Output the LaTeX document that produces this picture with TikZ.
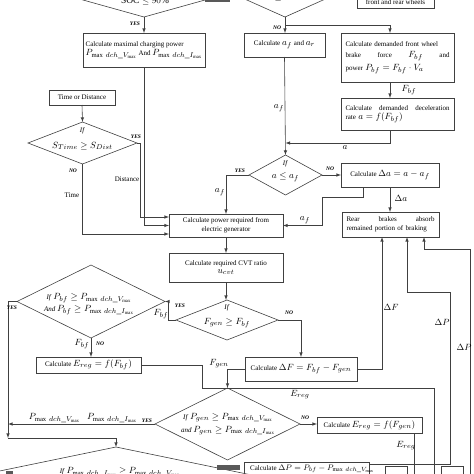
\documentclass[tikz,border=0pt]{standalone}
\usepackage{fontspec}
\setmainfont{Liberation Serif}
\usetikzlibrary{shapes.geometric,calc}
\def\m#1{{\fontsize{9.5}{10}\selectfont$#1$}}
\def\ms#1{{\fontsize{8.5}{9}\selectfont$#1$}}
\newcommand{\PmaxV}{P_{\max\,dch\_V_{\max}}}
\newcommand{\PmaxI}{P_{\max\,dch\_I_{\max}}}
\tikzset{
  blk/.style={draw=black!75, line width=0.6pt, rectangle, inner sep=1pt, outer sep=0pt, font=\fontsize{7}{8.5}\selectfont},
  dia/.style={draw=black!75, line width=0.6pt, diamond, inner sep=0pt, outer sep=0pt},
  txt/.style={inner sep=0pt, font=\fontsize{7}{9}\selectfont, align=center},
  lbl/.style={inner sep=0pt, font=\fontsize{5.5}{6}\selectfont\bfseries\itshape},
  wire/.style={draw=black!75, line width=0.6pt},
  arr/.style={wire, -latex},
  stub/.style={fill=black!65, draw=none}
}

\begin{document}
\begin{tikzpicture}[x=1pt, y=-1pt]
			%%%%% START %%%%%
			\useasboundingbox (0,0) rectangle (474,474);
			\clip (0,0) rectangle (474,474);
			
			% decisions
			\node[dia, minimum width=208, minimum height=58] (soc) at (144,-12) {};
			\node[txt] (soc-t) at (145,1) {\m{\mathrm{SOC}\leq 90\%}};
			\node[dia, minimum width=130, minimum height=58] (dtop) at (285,-12) {};
			\node[txt] (dtop-t) at (283,-3) {\m{a\geq a_{\mathrm{lim}}}};
			\node[dia, minimum width=109, minimum height=42] (stime) at (82.5,143) {};
			\node[txt] (stime-if) at (82.5,131) {\textit{If}};
			\node[txt] (stime-t) at (82.5,146) {\m{S_{Time}\geq S_{Dist}}};
			\node[dia, minimum width=73, minimum height=40] (da) at (285.5,175) {};
			\node[txt] (da-if) at (285.5,164) {\textit{If}};
			\node[txt] (da-t) at (285.5,177) {\m{a\leq a_f}};
			\node[dia, minimum width=102, minimum height=40] (dfgen) at (227,320) {};
			\node[txt] (dfgen-if) at (227,308) {\textit{If}};
			\node[txt] (dfgen-t) at (227,323) {\m{F_{gen}\geq F_{bf}}};
			\node[dia, minimum width=148, minimum height=73] (dpbf) at (91,301.5) {};
			\node[txt] (dpbf-t) at (89,304) {\textit{If} \m{P_{bf}\geq \PmaxV}\\[2pt] \textit{And} \m{P_{bf}\geq \PmaxI}};
			\node[dia, minimum width=145, minimum height=72] (dpgen) at (227.5,424) {};
			\node[txt] (dpgen-t) at (228,424) {\textit{If} \m{P_{gen}\geq \PmaxV}\\[3pt] \textit{and} \m{P_{gen}\geq \PmaxI}};
			\node[dia, minimum width=320, minimum height=66] (dlow) at (116,480) {};
			\node[txt] (dlow-t) at (120,472) {\textit{If} \m{\PmaxI\geq \PmaxV}};
			
			% process boxes
			\node[blk, minimum width=77, minimum height=32] (topr) at (395.5,-8) {};
			\node[txt] (topr-t) at (395.5,2) {front and rear wheels};
			\node[blk, minimum width=122, minimum height=34] (charge) at (144,50) {};
			\node[txt, align=left] (charge-t) at (144,50) {Calculate maximal charging power\\ \m{\PmaxV} And \m{\PmaxI}};
			\node[blk, minimum width=66, minimum height=15] (timed) at (82,97.5) {Time or Distance};
			\node[blk, minimum width=81, minimum height=24] (ac) at (284.5,45) {Calculate \m{a_f} and \m{a_r}};
			\node[blk, minimum width=113, minimum height=49, text width=104, align=left] (front) at (397.5,57.5)
				{Calculate demanded front wheel\\[3pt] brake \hfill force \hfill \m{F_{bf}} \hfill and\\[3pt] power \m{P_{bf}=F_{bf}\cdot V_a}};
			\node[blk, minimum width=113, minimum height=32, text width=104, align=left] (decel) at (397.5,114)
				{Calculate \hfill demanded \hfill deceleration\\[1pt] rate \m{a=f(F_{bf})}};
			\node[blk, minimum width=98, minimum height=24] (dela) at (390,175) {Calculate \m{\Delta a=a-a_f}};
			\node[blk, minimum width=97, minimum height=25, text width=88, align=left] (rear) at (390.5,224.5)
				{Rear \hfill brakes \hfill absorb\\ remained portion of braking};
			\node[blk, minimum width=114, minimum height=23, align=center] (power) at (226,225.5)
				{Calculate power required from\\ electric generator};
			\node[blk, minimum width=114, minimum height=29, align=center] (cvt) at (226,267.5)
				{Calculate required CVT ratio\\ \m{u_{cvt}}};
			\node[blk, minimum width=105, minimum height=16] (ebf) at (88.5,365) {Calculate \m{E_{reg}=f(F_{bf})}};
			\node[blk, minimum width=112, minimum height=24] (df) at (301,369) {Calculate \m{\Delta F=F_{bf}-F_{gen}}};
			\node[blk, minimum width=105, minimum height=16] (egen) at (369.5,425) {Calculate \m{E_{reg}=f(F_{gen})}};
			\node[blk, minimum width=125, minimum height=26] (dp) at (306.5,475) {};
			\node[txt, anchor=west] (dp-t) at (250,469) {Calculate \ms{\Delta P=P_{bf}-\PmaxV}};
			\node[blk, minimum width=22, minimum height=20] (sb1) at (396,476) {};
			\node[blk, minimum width=22, minimum height=20] (sb2) at (452,476) {};
			
			% grey stubs
			\fill[stub] (205,-2) rectangle (230,2);
			\fill[stub] (6,471) rectangle (13,475);
			\fill[stub] (217,465) rectangle (240,470);
			
			% turning points
			\coordinate (amerge) at (285.5,143);
			\coordinate (afbend) at (322,197);
			\coordinate (lc) at (8,438);
			\coordinate (eb1) at (202,388);
			\coordinate (eb2) at (434,480);
			\coordinate (dpr) at (450,292);
			\coordinate (bot2) at (470,480);
			\coordinate (dpr2) at (470,249);
			
			% connectors
			\draw[arr] (soc.south) -- (charge.north);
			\draw[arr] (charge.south) |- (power.west);
			\draw[arr] (timed.south) -- (stime.north);
			\draw[arr] (stime.east) -- ++(3,0) |- ([yshift=8.5pt]power.west);
			\draw[arr] (stime.south) |- ([yshift=-8.5pt]power.west);
			\draw[arr] (dtop.south) -- (dtop.south |- ac.north);
			\draw[arr] ([yshift=-8pt]dtop.south) -| ([xshift=-7.5pt]front.north);
			\draw[arr] ([xshift=-7.5pt]front.south) -- ([xshift=-7.5pt]decel.north);
			\draw[arr] ([xshift=-7.5pt]decel.south) |- (amerge);
			\draw[arr] (ac.south) -- (da.north);
			\draw[arr] (da.west) -| (power.north);
			\draw[arr] (da.east) -- (dela.west);
			\draw[arr] (dela.south) -- (dela.south |- rear.north);
			\draw[arr] ([xshift=-27pt]dela.south) |- (afbend) |- (power.east);
			\draw[arr] (power.south) -- (cvt.north);
			\draw[arr] (cvt.south) -- (cvt.south |- dfgen.north);
			\draw[arr] (dfgen.east) -| (df.north);
			\draw[arr] (dfgen.west) -- ++(-8,0) |- (dpbf.east);
			\draw[arr] (dpbf.west) -| (lc);
			\draw[arr] (lc) -| (dlow.north);
			\draw[arr] (dpbf.south) -- (dpbf.south |- ebf.north);
			\draw[wire] (ebf.east) -| (eb1) -| (eb2);
			\draw[arr] (df.west) -| (dpgen.north);
			\draw[arr] (df.east) -| ([xshift=-8.5pt]rear.south);
			\draw[arr] (dpgen.east) -- (egen.west |- dpgen.east);
			\draw[arr] (dpgen.west) -- (dpgen.west -| lc);
			\draw[wire] ([xshift=44.5pt]egen.south) -- ++(0,60);
			\draw[arr] ([yshift=-2pt]dp.north east) -| (dpr) -| ([xshift=16.5pt]rear.south);
			\draw[arr] (bot2) -- (dpr2) -| ([xshift=33.5pt]rear.south);
			
			% labels
			\node[lbl] (l-soc) at (135,24) {YES};
			\node[lbl] (l-dtop) at (277,28) {NO};
			\node[lbl] (l-st1) at (136,137) {YES};
			\node[lbl] (l-st2) at (73,171) {NO};
			\node[txt] (l-dist) at (127,179) {Distance};
			\node[txt] (l-time) at (72,195) {Time};
			\node[txt] (l-fbf1) at (409,90) {\m{F_{bf}}};
			\node[txt] (l-a) at (345,148) {\m{a}};
			\node[txt] (l-af1) at (279,108) {\m{a_f}};
			\node[lbl] (l-da1) at (240,171) {YES};
			\node[lbl] (l-da2) at (330,169) {NO};
			\node[txt] (l-af2) at (220,192) {\m{a_f}};
			\node[txt] (l-dela) at (401,198) {\m{\Delta a}};
			\node[txt] (l-af3) at (305,220) {\m{a_f}};
			\node[lbl] (l-fg1) at (180,306) {YES};
			\node[txt] (l-fbf2) at (161,314) {\m{F_{bf}}};
			\node[lbl] (l-fg2) at (289,313) {NO};
			\node[lbl] (l-pbf1) at (12,308) {YES};
			\node[txt] (l-fbf3) at (82,344) {\m{F_{bf}}};
			\node[lbl] (l-pbf2) at (100,344) {NO};
			\node[txt] (l-fgen) at (219,364) {\m{F_{gen}}};
			\node[txt] (l-ereg1) at (300,395) {\m{E_{reg}}};
			\node[txt] (l-df) at (391,307) {\m{\Delta F}};
			\node[txt] (l-dp1) at (442,322) {\m{\Delta P}};
			\node[txt] (l-dp2) at (464,347) {\m{\Delta P}};
			\node[lbl] (l-pg2) at (305,418) {NO};
			\node[txt] (l-ereg2) at (406,446) {\m{E_{reg}}};
			\node[txt] (l-pmax) at (83,418) {\m{\PmaxV}\quad\m{\PmaxI}};
			\node[lbl] (l-pg1) at (147,421) {YES};
			%%%%% END %%%%%
\end{tikzpicture}
\end{document}
